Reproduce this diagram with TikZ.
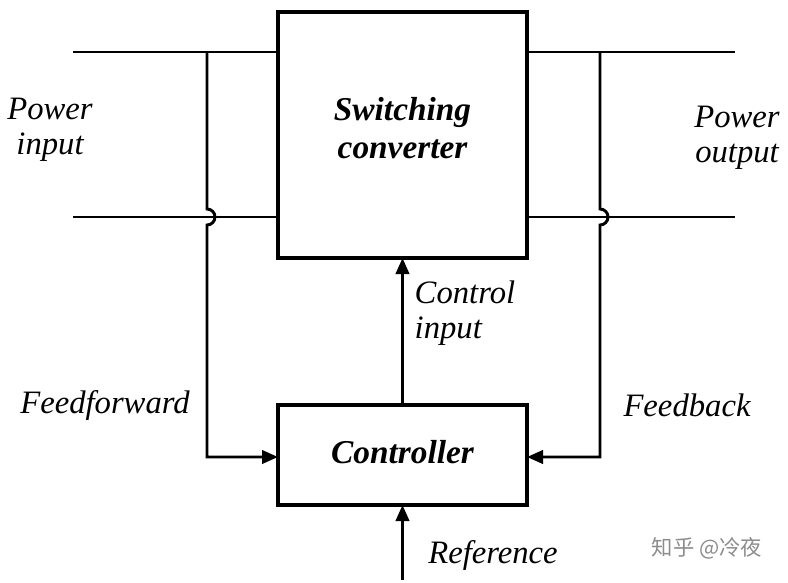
\documentclass[tikz,border=0pt]{standalone}
\usepackage{fontspec}
\setmainfont{Liberation Serif}
\newfontfamily\cjk{Noto Sans CJK SC}
\usetikzlibrary{arrows.meta}
\newcommand{\lbl}{\node[font=\itshape\fontsize{24.5}{26}\selectfont, align=center]}
\begin{document}
\begin{tikzpicture}[x=0.75pt, y=-0.75pt,
    blk/.style={draw, line width=3pt},
    wire/.style={line width=2.2pt},
    arr/.style={wire, -{Triangle[length=12pt,width=10pt]}}]
\useasboundingbox (0,0) rectangle (788,582);
% boxes
\draw[blk] (278,12) rectangle (527,258);
\node (conv) at (402.5,128) {};
\draw[blk] (278,405) rectangle (527,505);
\node (ctrl) at (402.5,452) {};
\node[font=\bfseries\itshape\fontsize{25}{28}\selectfont, align=center] at (conv) {Switching\\converter};
\node[font=\bfseries\itshape\fontsize{25}{28}\selectfont] at (ctrl) {Controller};
% power lines
\coordinate (inT) at (73,52);   \coordinate (inB) at (73,217);
\coordinate (outT) at (735,52); \coordinate (outB) at (735,217);
\draw[wire] (inT) -- (278,52) (inB) -- (278,217);
\draw[wire] (527,52) -- (outT) (527,217) -- (outB);
% feedforward and feedback with hops
\draw[arr] (207,52) -- (207,209) arc[start angle=-90, end angle=90, radius=8] -- (207,457) -- (278,457);
\draw[arr] (600,52) -- (600,209) arc[start angle=-90, end angle=90, radius=8] -- (600,457) -- (527,457);
% control input and reference
\draw[arr] (402.5,405) -- (402.5,258);
\coordinate (ref) at (402.5,580);
\draw[arr] (ref) -- (402.5,505);
% labels
\lbl at (50,130) {Power\\input};
\lbl at (737,138) {Power\\output};
\lbl[align=left, anchor=west] at (410,313) {Control\\input};
\lbl at (105,405) {Feedforward};
\lbl at (687,405) {Feedback};
\lbl at (493,555) {Reference};
\node[text=black!45, font=\cjk\fontsize{16}{18}\selectfont] at (707,548) {知乎 @冷夜};
\end{tikzpicture}
\end{document}
